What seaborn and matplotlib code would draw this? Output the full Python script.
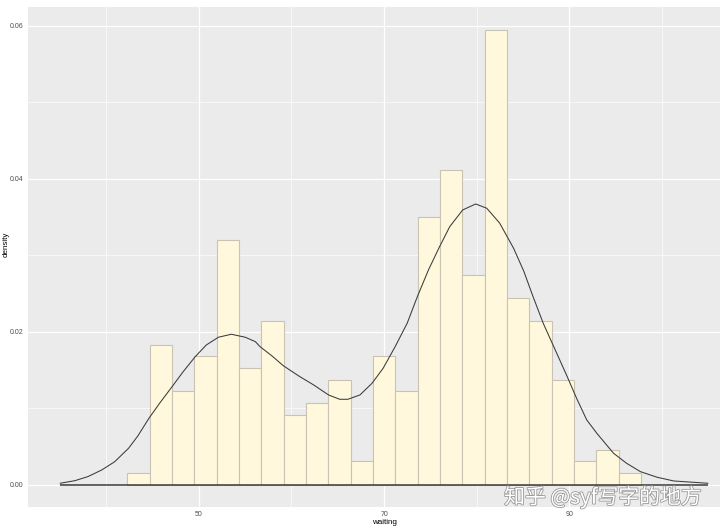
import pandas as pd
import seaborn as sns
import matplotlib.pyplot as plt
import matplotlib.patheffects as pe
from matplotlib.ticker import FixedLocator

# DATA (faithful$waiting)
bin_start = 42.25
bin_width = 2.413
counts = [1, 12, 8, 11, 21, 10, 14, 6, 7, 9, 2, 11, 8, 23, 27, 18, 39, 16, 14, 9, 2, 3, 1]

curve_x = [35.0, 36.6, 38.0, 39.5, 40.9, 42.4, 43.4, 44.6, 45.8, 47.1, 48.3, 49.6, 50.8, 52.1,
           53.5, 55.0, 56.1, 56.6, 57.9, 59.1, 60.9, 62.4, 64.0, 65.2, 66.1, 67.4, 68.7, 69.9,
           71.2, 72.5, 73.6, 74.8, 76.0, 77.1, 78.5, 79.9, 81.1, 82.2, 82.5, 84.0, 85.1, 86.1,
           87.2, 88.5, 89.8, 90.8, 91.9, 93.0, 94.8, 96.2, 97.7, 99.5, 101.3, 105.0]
curve_y = [0.00018, 0.00052, 0.00105, 0.00192, 0.0030, 0.00476, 0.00637, 0.00868, 0.01072,
           0.01281, 0.01477, 0.01673, 0.01826, 0.01927, 0.01966, 0.01927, 0.01869, 0.01804,
           0.01682, 0.01556, 0.01412, 0.01303, 0.01173, 0.01116, 0.01116, 0.01173, 0.01325,
           0.01521, 0.01804, 0.0211, 0.02458, 0.02807, 0.03111, 0.03373, 0.03591, 0.03669,
           0.03613, 0.0346, 0.03417, 0.0309, 0.0279, 0.02458, 0.0211, 0.0176, 0.0141, 0.0113,
           0.00846, 0.0067, 0.0041, 0.0028, 0.0017, 0.00097, 0.00048, 0.00018]

x_major = [50, 70, 90]
x_minor = [40, 60, 80, 100]
y_major = [0.00, 0.02, 0.04, 0.06]
y_minor = [0.01, 0.03, 0.05]

#BINS
edges = [bin_start + bin_width * i for i in range(len(counts) + 1)]
mids = [(a + b) / 2 for a, b in zip(edges[:-1], edges[1:])]
df = pd.DataFrame({"waiting": mids, "n": counts})

#THEME (ggplot grey)
sns.set_theme(style="darkgrid", rc={"axes.facecolor": "#EBEBEB", "grid.color": "white"})
plt.rcParams['font.family'] = ['Liberation Sans', 'DejaVu Sans']

fig = plt.figure(figsize=(7.2, 5.29), dpi=100)
ax = fig.add_axes([0.0385, 0.0422, 0.9615, 0.944])

sns.histplot(data=df, x="waiting", weights="n", bins=edges, stat="density",
             color="#FFF8DC", edgecolor="#C9C3B3", linewidth=0.8, alpha=1, ax=ax)
sns.lineplot(x=curve_x, y=curve_y, color="#3A3A3A", linewidth=0.75, ax=ax, estimator=None)
ax.hlines(0, curve_x[0], curve_x[-1], color="#3A3A3A", linewidth=1.1)

ax.set_xlim(31.5, 106.3)
ax.set_ylim(-0.00288, 0.0624)

ax.xaxis.set_major_locator(FixedLocator(x_major))
ax.xaxis.set_minor_locator(FixedLocator(x_minor))
ax.yaxis.set_major_locator(FixedLocator(y_major))
ax.yaxis.set_minor_locator(FixedLocator(y_minor))
ax.set_yticklabels([f"{v:.2f}" for v in y_major])
ax.grid(which="major", color="white", linewidth=0.9)
ax.grid(which="minor", color="white", linewidth=0.45)
ax.set_axisbelow(True)
for s in ax.spines.values():
    s.set_visible(False)

ax.tick_params(axis="both", which="major", length=2, width=0.6, color="#333333",
               labelsize=5, labelcolor="#4D4D4D", pad=1.2)
ax.tick_params(axis="both", which="minor", length=0)

ax.set_xlabel("waiting", fontsize=5.8, color="black")
ax.set_ylabel("density", fontsize=5.8, color="black")
ax.xaxis.label.set_va("center")
ax.yaxis.label.set_va("center")
ax.xaxis.set_label_coords(0.5147, -0.0326)
ax.yaxis.set_label_coords(-0.0305, 0.526)

#WATERMARK
fig.text(0.975, 0.06, "知乎 @syf写字的地方", ha="right", va="center", fontsize=15,
         color="white", family=["Noto Sans CJK SC", "DejaVu Sans"],
         path_effects=[pe.withStroke(linewidth=1.2, foreground="#9A9A9A")])

fig.savefig("out.png", dpi=100)
